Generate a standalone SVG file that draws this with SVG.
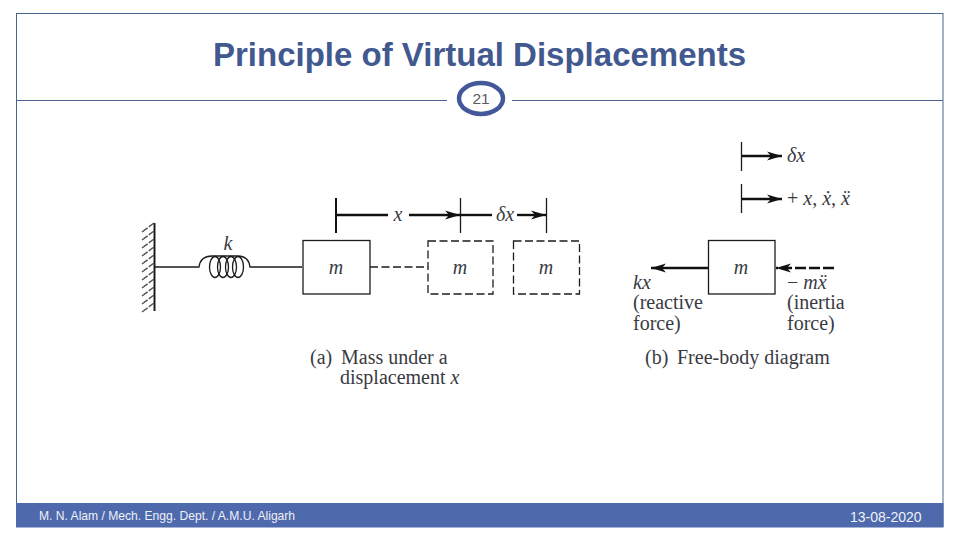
<svg xmlns="http://www.w3.org/2000/svg" width="960" height="540" viewBox="0 0 960 540">
<style>
.ln{fill:none;stroke:#1c1c1c;stroke-width:1.3}
.th{fill:none;stroke:#111;stroke-width:2.4}
.ds{fill:none;stroke:#1c1c1c;stroke-width:1.3;stroke-dasharray:8 3.5}
.s{font-family:"Liberation Serif",serif;font-size:20px;fill:#3a3a42}
.i{font-style:italic}
.f{font-family:"Liberation Sans",Arial,sans-serif}
</style>
<defs>
<marker id="ah" markerUnits="userSpaceOnUse" markerWidth="16" markerHeight="12" refX="15" refY="6" orient="auto"><path d="M0 1.5L15 6L0 10.500L4 6Z" fill="#111"/></marker>
</defs>
<rect width="960" height="540" fill="#fff"/>
<g id="frame">
<rect x="16.500" y="13.500" width="926.500" height="513" fill="none" stroke="#4a6490" stroke-width="1"/>
<path d="M16 100.500H447M512 100.500H943" fill="none" stroke="#4a6490" stroke-width="1"/>
<rect x="16" y="503" width="927.500" height="24.500" fill="#4f69ad"/>
</g>
<text id="title" class="f" x="479.500" y="66" font-size="33" font-weight="700" fill="#42598f" text-anchor="middle">Principle of Virtual Displacements</text>
<g id="page-number">
<ellipse cx="481" cy="98.500" rx="22" ry="15.500" fill="#fff" stroke="#42589a" stroke-width="4.500"/>
<text class="f" x="481" y="103.500" font-size="15.500" fill="#5c5c5c" text-anchor="middle">21</text>
</g>
<text id="footer-left" class="f" x="39" y="520" font-size="12.100" fill="#eef1f8">M. N. Alam / Mech. Engg. Dept. / A.M.U. Aligarh</text>
<text id="footer-right" class="f" x="850" y="522" font-size="14" fill="#eef1f8">13-08-2020</text>

<g id="wall">
<path d="M154.500 223V311" fill="none" stroke="#1c1c1c" stroke-width="2"/>
<path d="M142 232l12-9M142 240l12-9M142 248l12-9M142 256l12-9M142 264l12-9M142 272l12-9M142 280l12-9M142 288l12-9M142 296l12-9M142 304l12-9M142 312l12-9" fill="none" stroke="#555" stroke-width="1.500" stroke-dasharray="7 1.500"/>
</g>
<g id="spring">
<path class="ln" d="M155 267H199C200 259 205 256 212 256H238C245 256 249 259 250 267H302"/>
<ellipse class="ln" cx="215" cy="267" rx="5.500" ry="10.500"/>
<ellipse class="ln" cx="223" cy="267" rx="5.500" ry="10.500"/>
<ellipse class="ln" cx="231" cy="267" rx="5.500" ry="10.500"/>
<ellipse class="ln" cx="238" cy="267" rx="5.500" ry="10.500"/>
<text class="s i" x="228" y="250" text-anchor="middle">k</text>
</g>
<g id="mass-a">
<rect class="ln" x="303" y="240.500" width="67" height="53.500" stroke-width="1.500"/>
<text class="s i" x="336" y="274" text-anchor="middle">m</text>
</g>
<g id="mass-a-mid">
<rect class="ds" x="428" y="241" width="65" height="53"/>
<text class="s i" x="460" y="274" text-anchor="middle">m</text>
</g>
<g id="mass-a-end">
<rect class="ds" x="513.500" y="241" width="66" height="53"/>
<text class="s i" x="546" y="274" text-anchor="middle">m</text>
</g>
<g id="mass-b">
<rect class="ln" x="708.500" y="240.500" width="66.500" height="53.500"/>
<text class="s i" x="741" y="274" text-anchor="middle">m</text>
</g>

<g id="connectors">
<path class="ds" d="M370 267H428"/>
<path d="M336 198V233" fill="none" stroke="#111" stroke-width="2"/>
<path class="ln" d="M460.500 198V233M546.500 198V233M741.500 142V171M741.500 184V213"/>
<path class="th" d="M336 215H388" stroke-width="2"/>
<path class="th" d="M409 215H460" marker-end="url(#ah)"/>
<path class="th" d="M460 215H492"/>
<path class="th" d="M517 215H546" marker-end="url(#ah)"/>
<path class="th" d="M742 156H782" marker-end="url(#ah)"/>
<path class="th" d="M742 199H782" marker-end="url(#ah)"/>
<path class="th" d="M708 268H651" marker-end="url(#ah)" stroke-width="3"/>
<path class="th" d="M834 268H776" marker-end="url(#ah)" stroke-width="3" stroke-dasharray="11 3"/>
</g>

<g id="labels">
<text class="s i" x="398" y="221" text-anchor="middle">x</text>
<text class="s i" x="496" y="221">δx</text>
<text class="s i" x="787" y="162">δx</text>
<text class="s" x="787" y="205">+ <tspan class="i">x, ẋ, ẍ</tspan></text>
<text class="s i" x="633" y="289">kx</text>
<text class="s" x="633" y="309">(reactive</text>
<text class="s" x="633" y="330">force)</text>
<text class="s" x="787" y="289">− <tspan class="i">mẍ</tspan></text>
<text class="s" x="787" y="309">(inertia</text>
<text class="s" x="787" y="330">force)</text>
<text class="s" x="310" y="364">(a)</text>
<text class="s" x="341" y="364">Mass under a</text>
<text class="s" x="340" y="384">displacement <tspan class="i">x</tspan></text>
<text class="s" x="645" y="364">(b)</text>
<text class="s" x="677" y="364">Free-body diagram</text>
</g>
</svg>
